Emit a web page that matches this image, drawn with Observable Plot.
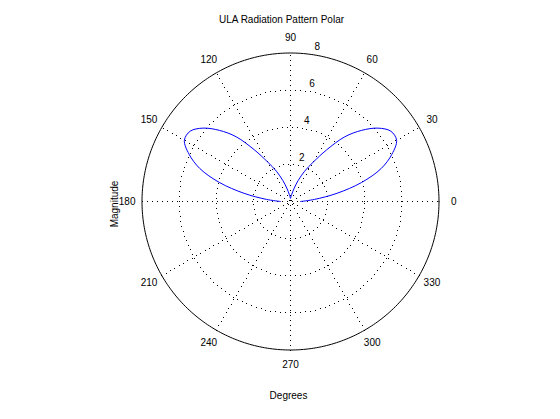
<!DOCTYPE html>
<html>
<head>
<meta charset="utf-8">
<script src="https://cdn.jsdelivr.net/npm/d3@7"></script>
<script src="https://cdn.jsdelivr.net/npm/@observablehq/plot@0.6"></script>
<style>
  body { margin: 0; background: #fff; }
</style>
</head>
<body>
<div id="chart"></div>
<script>
// ---- data ----
const angleDeg = [0, 5, 10, 15, 20, 25, 30, 35, 40, 45, 50, 55, 60, 65, 70, 75, 80, 85, 90,
                  95, 100, 105, 110, 115, 120, 125, 130, 135, 140, 145, 150, 155, 160, 165, 170, 175, 180];
const magnitude = [0.54, 1.3, 2.54, 3.97, 5.2, 6.03, 6.6, 6.6, 6.15, 5.42, 4.55, 3.4, 2.45, 1.8, 1.2, 0.7, 0.4, 0.25, 0.17,
                   0.25, 0.4, 0.7, 1.2, 1.8, 2.45, 3.4, 4.55, 5.42, 6.15, 6.6, 6.6, 6.03, 5.2, 3.97, 2.54, 1.3, 0.54];
const ringValues = [2, 4, 6, 8];
const radialTickLabels = ["2", "4", "6", "8"];
const rMax = 8;
const spokeAngles = [0, 30, 60, 90, 120, 150];
const angleTickAngles = [0, 30, 60, 90, 120, 150, 180, 210, 240, 270, 300, 330];
const angleTickLabels = ["0", "30", "60", "90", "120", "150", "180", "210", "240", "270", "300", "330"];
const titleText = "ULA Radiation Pattern Polar";
const xLabelText = "Degrees";
const yLabelText = "Magnitude";

// ---- derived tables ----
const rad = d => d * Math.PI / 180;
const pattern = angleDeg.map((a, i) => ({a, r: magnitude[i]}));
const circlePts = ringValues.flatMap(r =>
  d3.range(0, 361, 1).map(t => ({ring: r, t})));
const spokePts = spokeAngles.flatMap(a => [{a, s: -1}, {a, s: 1}]);

const dotted = {stroke: "black", strokeWidth: 1, strokeDasharray: "0,5", strokeLinecap: "square", shapeRendering: "crispEdges"};
const label = {fill: "black", fontSize: 10, textAnchor: "middle", lineAnchor: "middle"};

const chart = Plot.plot({
  width: 560,
  height: 419,
  marginLeft: 141.5,
  marginRight: 121.5,
  marginTop: 52.5,
  marginBottom: 69.5,
  x: {domain: [-rMax, rMax], axis: null},
  y: {domain: [-rMax, rMax], axis: null},
  style: {fontFamily: "'Liberation Sans', Arial, Helvetica, sans-serif", fontSize: "10px", background: "white", color: "black"},
  marks: [
    // dotted rings
    Plot.line(circlePts.filter(d => d.ring < rMax), {
      x: d => d.ring * Math.cos(rad(d.t)),
      y: d => d.ring * Math.sin(rad(d.t)),
      z: "ring", ...dotted
    }),
    // dotted spokes
    Plot.line(spokePts, {
      x: d => d.s * rMax * Math.cos(rad(d.a)),
      y: d => d.s * rMax * Math.sin(rad(d.a)),
      z: "a", ...dotted
    }),
    // solid outer circle
    Plot.line(circlePts.filter(d => d.ring === rMax), {
      x: d => d.ring * Math.cos(rad(d.t)),
      y: d => d.ring * Math.sin(rad(d.t)),
      stroke: "black", strokeWidth: 1
    }),
    // radiation pattern
    Plot.line(pattern, {
      x: d => d.r * Math.cos(rad(d.a)),
      y: d => d.r * Math.sin(rad(d.a)),
      curve: "catmull-rom",
      stroke: "#0000ff", strokeWidth: 1
    }),
    // angle labels
    Plot.text(angleTickAngles, {
      x: a => 1.1 * rMax * Math.cos(rad(a)),
      y: a => 1.1 * rMax * Math.sin(rad(a)),
      text: (a, i) => angleTickLabels[i],
      ...label
    }),
    // radial labels
    Plot.text(ringValues, {
      x: v => (v + 0.1) * Math.cos(rad(82)),
      y: v => (v + 0.1) * Math.sin(rad(82)),
      text: (v, i) => radialTickLabels[i],
      ...label, textAnchor: "start", dx: 3, dy: -5.5
    }),
    // title
    Plot.text([titleText], {frameAnchor: "top", dx: -9, dy: -33, ...label}),
    // x label
    Plot.text([xLabelText], {frameAnchor: "bottom", dx: -2, dy: 46, ...label}),
    // y label
    Plot.text([yLabelText], {frameAnchor: "left", rotate: -90, dx: -27.2, dy: 2.5, ...label})
  ]
});
document.getElementById("chart").appendChild(chart);
</script>
</body>
</html>
